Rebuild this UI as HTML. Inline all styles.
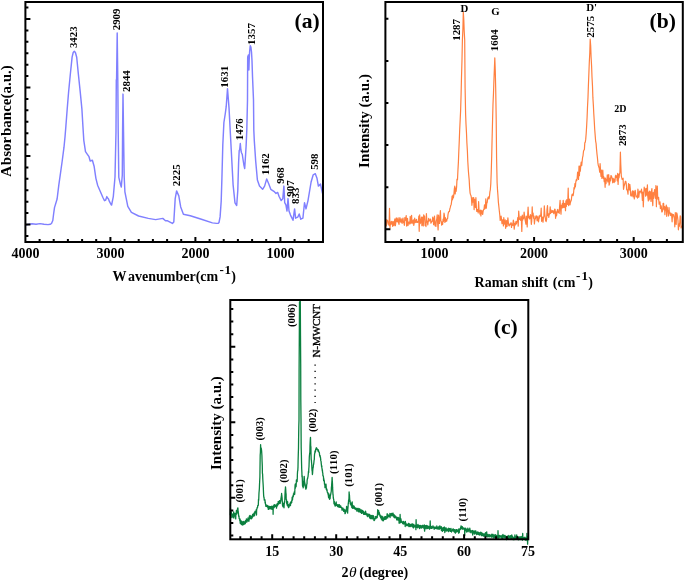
<!DOCTYPE html>
<html><head><meta charset="utf-8"><style>
html,body{margin:0;padding:0;background:#fff;}
body{width:685px;height:580px;overflow:hidden;}
svg{display:block;}
</style></head><body>
<svg width="685" height="580" viewBox="0 0 685 580">
<rect width="685" height="580" fill="#fff"/>
<path d="M25.4 225.0 L28.0 224.5 L32.0 223.8 L36.0 224.2 L40.0 223.6 L44.0 224.3 L48.0 224.6 L50.2 224.3 L51.5 223.5 L52.8 220.5 L53.6 214.0 L54.5 207.6 L57.1 199.0 L58.8 185.2 L60.5 173.1 L62.2 161.0 L64.0 147.2 L65.1 136.0 L65.9 126.0 L67.2 109.0 L68.6 92.0 L70.3 74.5 L72.1 57.2 L73.2 52.5 L74.3 51.3 L75.4 52.5 L76.7 57.2 L78.4 74.5 L80.2 91.7 L81.9 109.0 L82.9 126.0 L83.8 140.3 L85.5 151.6 L87.2 154.1 L89.0 156.7 L90.2 161.0 L92.4 160.2 L94.1 166.2 L95.9 178.3 L97.6 185.2 L100.2 191.2 L102.8 197.2 L104.5 200.7 L105.7 200.0 L106.8 196.6 L107.4 197.8 L108.5 199.0 L109.4 201.4 L111.3 205.0 L111.6 205.0 L113.3 196.6 L115.0 177.0 L116.0 131.4 L116.3 80.0 L116.6 79.0 L117.2 32.9 L117.8 80.0 L118.2 131.0 L118.8 177.3 L120.5 184.5 L121.3 187.0 L122.3 175.0 L122.6 130.0 L123.0 94.1 L123.5 130.0 L124.2 177.3 L124.9 191.8 L127.8 206.3 L131.4 212.3 L138.6 216.0 L148.3 218.4 L155.6 219.6 L162.8 218.4 L165.5 220.7 L167.6 220.8 L172.4 223.4 L173.8 222.0 L175.2 198.6 L176.6 190.9 L178.8 195.9 L180.7 206.9 L183.4 214.3 L190.3 215.7 L201.4 219.3 L212.4 222.9 L216.6 223.4 L218.3 223.3 L219.0 222.5 L220.1 216.9 L221.2 201.1 L221.9 178.7 L222.8 145.0 L223.9 122.5 L225.3 113.5 L226.2 106.7 L227.5 88.8 L229.0 107.6 L231.2 149.0 L233.1 184.8 L235.0 202.8 L236.7 205.5 L237.8 190.3 L238.6 162.8 L239.2 150.5 L239.7 149.5 L240.3 143.5 L240.9 150.0 L241.4 152.5 L242.3 154.5 L242.8 158.0 L243.8 164.5 L244.7 168.5 L246.1 146.2 L246.8 130.0 L247.5 100.0 L247.6 75.0 L247.7 57.0 L248.4 55.0 L248.9 70.0 L249.2 60.0 L249.6 52.0 L250.2 45.7 L250.9 47.0 L251.5 52.0 L252.0 60.7 L252.5 76.2 L253.5 100.0 L253.8 130.0 L254.3 140.7 L255.7 161.3 L257.4 180.0 L259.5 186.1 L262.6 189.3 L264.6 186.1 L266.7 178.9 L268.8 184.1 L270.8 189.3 L273.9 191.3 L276.0 193.4 L277.7 192.4 L279.1 196.5 L281.2 200.6 L282.8 198.6 L283.9 186.1 L284.7 202.7 L285.9 204.8 L287.0 211.0 L288.0 198.6 L289.0 211.0 L290.5 215.1 L293.0 220.3 L294.6 208.9 L295.6 218.2 L297.7 217.2 L299.2 214.0 L300.8 219.2 L302.9 218.2 L304.5 202.7 L306.0 208.9 L308.0 200.6 L311.1 182.0 L313.2 174.8 L315.3 173.7 L316.9 177.9 L318.4 186.1 L320.5 184.1 L322.5 193.4 L323.0 190.0" fill="none" stroke="#8080ff" stroke-width="1.45" stroke-linejoin="round"/>
<path d="M385.5 221.7 L385.9 226.0 L386.4 225.5 L386.8 219.6 L387.3 221.7 L387.7 220.5 L388.2 224.1 L388.6 222.3 L389.1 225.4 L389.5 208.4 L390.0 227.9 L390.4 221.9 L390.9 224.7 L391.3 222.1 L391.8 221.3 L392.2 223.1 L392.7 226.3 L393.1 221.7 L393.6 222.3 L394.0 225.6 L394.5 220.6 L394.9 218.8 L395.4 225.6 L395.8 222.3 L396.3 217.9 L396.7 221.2 L397.2 221.9 L397.6 219.1 L398.1 217.9 L398.5 222.3 L399.0 224.4 L399.4 220.1 L399.9 217.7 L400.3 221.2 L400.8 222.2 L401.2 218.9 L401.7 222.0 L402.1 223.4 L402.6 219.6 L403.0 218.0 L403.5 222.4 L403.9 222.7 L404.4 225.3 L404.8 217.7 L405.3 220.3 L405.7 218.7 L406.2 215.6 L406.6 226.1 L407.1 223.2 L407.5 218.4 L408.0 225.6 L408.4 223.3 L408.9 222.0 L409.3 222.2 L409.8 224.1 L410.2 216.4 L410.7 223.0 L411.1 223.3 L411.6 215.3 L412.0 222.3 L412.5 220.9 L412.9 223.7 L413.4 219.9 L413.8 225.4 L414.3 222.2 L414.7 218.0 L415.2 222.6 L415.6 220.4 L416.1 222.1 L416.5 219.4 L417.0 222.5 L417.4 222.4 L417.9 221.4 L418.3 222.2 L418.8 216.2 L419.2 231.3 L419.7 214.9 L420.1 223.7 L420.6 222.2 L421.0 220.0 L421.5 217.1 L421.9 225.7 L422.4 217.2 L422.8 223.0 L423.3 225.9 L423.7 214.8 L424.2 219.3 L424.6 216.1 L425.1 225.5 L425.5 224.6 L426.0 226.6 L426.4 213.7 L426.9 222.2 L427.3 221.4 L427.8 224.9 L428.2 221.7 L428.7 218.3 L429.1 221.1 L429.6 220.4 L430.0 220.0 L430.5 219.1 L430.9 223.1 L431.4 222.3 L431.8 221.2 L432.3 221.2 L432.7 217.2 L433.2 219.5 L433.6 224.6 L434.1 218.6 L434.5 216.0 L435.0 225.6 L435.4 222.1 L435.9 226.4 L436.3 220.6 L436.8 218.8 L437.2 214.8 L437.7 223.9 L438.1 229.9 L438.6 215.2 L439.0 219.8 L439.5 223.4 L439.9 218.1 L440.4 210.5 L440.8 220.6 L441.3 221.7 L441.7 225.1 L442.2 222.1 L442.6 224.5 L443.1 219.2 L443.5 221.4 L444.0 213.0 L444.4 215.2 L444.9 222.4 L445.3 217.7 L445.8 221.4 L446.2 219.8 L446.7 221.1 L447.1 218.6 L447.6 218.7 L448.0 214.6 L448.5 212.2 L448.9 211.7 L449.4 211.6 L449.8 209.0 L450.3 207.4 L450.7 205.6 L451.2 204.4 L451.6 201.6 L452.1 196.0 L452.5 199.8 L453.0 195.1 L453.4 197.8 L453.9 194.3 L454.3 189.2 L454.8 186.1 L455.2 194.0 L455.7 188.0 L456.1 191.5 L456.6 187.1 L457.0 179.1 L457.5 179.8 L457.9 171.0 L458.4 162.1 L458.8 151.4 L459.3 140.1 L459.7 129.4 L460.2 119.4 L460.6 110.9 L461.1 94.1 L461.5 77.0 L462.0 59.5 L462.4 40.0 L462.9 29.2 L463.3 12.0 L463.8 19.7 L464.2 31.1 L464.7 40.0 L465.1 88.0 L465.6 114.0 L466.0 123.9 L466.5 133.2 L466.9 142.9 L467.4 151.2 L467.8 161.4 L468.3 169.7 L468.7 174.8 L469.2 180.1 L469.6 187.4 L470.1 193.1 L470.5 194.5 L471.0 195.7 L471.4 197.8 L471.9 205.3 L472.3 201.5 L472.8 197.6 L473.2 202.1 L473.7 197.7 L474.1 209.6 L474.6 199.4 L475.0 206.7 L475.5 207.3 L475.9 197.7 L476.4 208.0 L476.8 211.5 L477.3 209.8 L477.7 209.6 L478.2 213.0 L478.6 201.6 L479.1 211.3 L479.5 211.0 L480.0 214.2 L480.4 210.0 L480.9 216.0 L481.3 211.9 L481.8 210.3 L482.2 213.1 L482.7 214.5 L483.1 211.2 L483.6 209.6 L484.0 209.4 L484.5 204.9 L484.9 208.9 L485.4 207.4 L485.8 198.9 L486.3 208.1 L486.7 203.4 L487.2 202.5 L487.6 199.2 L488.1 197.4 L488.5 196.9 L489.0 199.0 L489.4 197.0 L489.9 191.9 L490.3 190.0 L490.8 183.6 L491.2 173.0 L491.7 156.2 L492.1 138.7 L492.6 118.9 L493.0 104.0 L493.5 93.0 L493.9 80.9 L494.4 68.2 L494.8 57.9 L495.3 71.6 L495.7 88.8 L496.2 119.2 L496.6 158.8 L497.1 182.5 L497.5 189.6 L498.0 196.2 L498.4 202.4 L498.9 207.0 L499.3 210.7 L499.8 215.1 L500.2 220.5 L500.7 219.1 L501.1 216.1 L501.6 219.8 L502.0 223.6 L502.5 221.3 L502.9 219.6 L503.4 225.9 L503.8 217.7 L504.3 224.1 L504.7 223.0 L505.2 219.8 L505.6 228.3 L506.1 226.1 L506.5 220.7 L507.0 226.5 L507.4 223.0 L507.9 217.8 L508.3 222.0 L508.8 225.3 L509.2 225.9 L509.7 224.4 L510.1 223.9 L510.6 224.6 L511.0 222.5 L511.5 227.5 L511.9 223.9 L512.4 224.4 L512.8 225.4 L513.3 220.2 L513.7 221.5 L514.2 229.2 L514.6 225.4 L515.1 223.1 L515.5 225.0 L516.0 221.4 L516.4 223.8 L516.9 221.3 L517.3 221.6 L517.8 217.6 L518.2 226.1 L518.7 211.0 L519.1 216.3 L519.6 219.5 L520.0 219.2 L520.5 220.3 L520.9 216.4 L521.4 220.5 L521.8 231.5 L522.3 215.0 L522.7 220.2 L523.2 217.7 L523.6 218.5 L524.1 212.0 L524.5 215.2 L525.0 219.3 L525.4 221.3 L525.9 224.1 L526.3 216.1 L526.8 218.3 L527.2 226.9 L527.7 214.2 L528.1 207.1 L528.6 217.6 L529.0 216.4 L529.5 219.0 L529.9 218.2 L530.4 214.7 L530.8 215.8 L531.3 224.3 L531.7 221.2 L532.2 206.9 L532.6 215.9 L533.1 213.0 L533.5 218.2 L534.0 216.2 L534.4 223.9 L534.9 219.3 L535.3 219.0 L535.8 216.6 L536.2 215.7 L536.7 216.9 L537.1 220.8 L537.6 218.6 L538.0 216.0 L538.5 221.8 L538.9 218.9 L539.4 217.7 L539.8 215.4 L540.3 216.3 L540.7 215.5 L541.2 208.2 L541.6 221.3 L542.1 220.3 L542.5 217.2 L543.0 222.1 L543.4 218.0 L543.9 216.1 L544.3 205.9 L544.8 214.0 L545.2 217.0 L545.7 220.8 L546.1 221.6 L546.6 219.7 L547.0 209.6 L547.5 205.7 L547.9 215.7 L548.4 213.8 L548.8 217.4 L549.3 213.6 L549.7 214.0 L550.2 206.9 L550.6 213.5 L551.1 210.0 L551.5 212.5 L552.0 212.4 L552.4 210.7 L552.9 212.2 L553.3 210.8 L553.8 213.7 L554.2 212.7 L554.7 209.2 L555.1 209.4 L555.6 218.3 L556.0 211.8 L556.5 216.0 L556.9 213.3 L557.4 209.8 L557.8 209.4 L558.3 212.5 L558.7 212.0 L559.2 213.4 L559.6 206.3 L560.1 200.3 L560.5 208.9 L561.0 214.1 L561.4 205.3 L561.9 208.0 L562.3 203.5 L562.8 207.8 L563.2 200.4 L563.7 207.1 L564.1 207.4 L564.6 203.3 L565.0 203.7 L565.5 210.7 L565.9 200.9 L566.4 206.3 L566.8 199.5 L567.3 201.8 L567.7 204.5 L568.2 188.1 L568.6 205.6 L569.1 202.0 L569.5 199.1 L570.0 204.8 L570.4 202.5 L570.9 201.1 L571.3 200.2 L571.8 195.7 L572.2 194.1 L572.7 194.8 L573.1 195.7 L573.6 192.6 L574.0 187.7 L574.5 188.9 L574.9 183.7 L575.4 186.9 L575.8 181.8 L576.3 179.6 L576.7 180.6 L577.2 177.8 L577.6 172.2 L578.1 175.9 L578.5 179.5 L579.0 166.2 L579.4 175.7 L579.9 166.0 L580.3 171.1 L580.8 165.3 L581.2 162.0 L581.7 165.7 L582.1 161.7 L582.6 157.3 L583.0 155.8 L583.5 151.2 L583.9 150.2 L584.4 149.4 L584.8 142.9 L585.3 142.1 L585.7 139.4 L586.2 133.2 L586.6 126.8 L587.1 117.2 L587.5 107.1 L588.0 97.3 L588.4 85.5 L588.9 72.7 L589.3 62.2 L589.8 52.8 L590.2 39.2 L590.7 46.0 L591.1 56.9 L591.6 66.1 L592.0 76.9 L592.5 86.4 L592.9 97.9 L593.4 105.9 L593.8 114.0 L594.3 122.0 L594.7 129.2 L595.2 135.6 L595.6 140.8 L596.1 143.6 L596.5 148.9 L597.0 154.1 L597.4 157.5 L597.9 162.9 L598.3 165.3 L598.8 167.1 L599.2 168.1 L599.7 172.1 L600.1 163.7 L600.6 171.9 L601.0 176.4 L601.5 170.2 L601.9 178.5 L602.4 175.8 L602.8 170.2 L603.3 178.5 L603.7 176.5 L604.2 181.7 L604.6 178.0 L605.1 187.3 L605.5 178.2 L606.0 183.7 L606.4 179.6 L606.9 180.3 L607.3 174.9 L607.8 181.9 L608.2 178.3 L608.7 174.5 L609.1 185.2 L609.6 183.3 L610.0 178.0 L610.5 181.0 L610.9 175.7 L611.4 175.8 L611.8 177.2 L612.3 179.0 L612.7 182.8 L613.2 178.3 L613.6 180.1 L614.1 182.7 L614.5 179.2 L615.0 181.6 L615.4 176.0 L615.9 175.2 L616.3 177.4 L616.8 176.0 L617.2 180.8 L617.7 173.3 L618.1 184.4 L618.6 174.3 L619.0 177.9 L619.5 174.0 L619.9 172.7 L620.4 152.2 L620.8 164.8 L621.3 175.8 L621.7 177.7 L622.2 179.5 L622.6 179.1 L623.1 178.2 L623.5 189.3 L624.0 186.4 L624.4 185.1 L624.9 183.5 L625.3 181.3 L625.8 181.4 L626.2 183.1 L626.7 189.7 L627.1 189.6 L627.6 191.5 L628.0 194.1 L628.5 183.7 L628.9 186.8 L629.4 190.0 L629.8 184.4 L630.3 188.6 L630.7 195.5 L631.2 196.0 L631.6 196.0 L632.1 191.8 L632.5 190.9 L633.0 196.8 L633.4 191.1 L633.9 194.4 L634.3 199.0 L634.8 191.6 L635.2 190.3 L635.7 194.0 L636.1 196.9 L636.6 196.5 L637.0 196.0 L637.5 198.2 L637.9 189.1 L638.4 192.7 L638.8 197.3 L639.3 193.0 L639.7 191.1 L640.2 191.1 L640.6 191.6 L641.1 193.0 L641.5 189.2 L642.0 194.6 L642.4 200.4 L642.9 192.1 L643.3 206.8 L643.8 193.5 L644.2 187.2 L644.7 190.7 L645.1 189.0 L645.6 196.1 L646.0 188.3 L646.5 189.4 L646.9 195.2 L647.4 184.8 L647.8 196.5 L648.3 200.9 L648.7 192.1 L649.2 199.8 L649.6 191.2 L650.1 198.7 L650.5 191.8 L651.0 201.4 L651.4 191.6 L651.9 188.5 L652.3 199.0 L652.8 205.6 L653.2 192.7 L653.7 198.3 L654.1 193.0 L654.6 189.6 L655.0 193.4 L655.5 198.3 L655.9 185.5 L656.4 206.7 L656.8 192.9 L657.3 186.0 L657.7 197.7 L658.2 199.7 L658.6 197.4 L659.1 204.2 L659.5 203.5 L660.0 201.8 L660.4 208.6 L660.9 205.4 L661.3 206.4 L661.8 211.9 L662.2 211.8 L662.7 210.4 L663.1 203.4 L663.6 203.4 L664.0 209.3 L664.5 206.6 L664.9 214.6 L665.4 207.2 L665.8 210.2 L666.3 205.1 L666.7 216.3 L667.2 207.1 L667.6 211.1 L668.1 210.9 L668.5 216.0 L669.0 207.5 L669.4 213.1 L669.9 212.2 L670.3 215.2 L670.8 215.5 L671.2 213.4 L671.7 215.8 L672.1 221.8 L672.6 214.1 L673.0 215.9 L673.5 214.6 L673.9 216.6 L674.4 219.0 L674.8 226.8 L675.3 212.6 L675.7 221.1 L676.2 224.3 L676.6 212.8 L677.1 214.0 L677.5 216.8 L678.0 220.8 L678.4 229.8 L678.9 224.0 L679.3 226.4 L679.8 222.2 L680.2 215.8 L680.7 216.8 L681.1 228.0 L681.6 226.2 L682.0 226.9" fill="none" stroke="#ff8040" stroke-width="1.2" stroke-linejoin="round"/>
<path d="M230.3 515.2 L230.5 508.6 L230.6 513.8 L230.8 513.0 L231.0 513.2 L231.1 513.5 L231.3 511.8 L231.5 513.7 L231.7 513.3 L231.8 517.6 L232.0 514.7 L232.2 514.4 L232.3 514.8 L232.5 514.7 L232.7 514.5 L232.8 515.4 L233.0 516.6 L233.2 516.0 L233.4 517.5 L233.5 516.6 L233.7 511.9 L233.9 518.0 L234.0 516.9 L234.2 515.6 L234.4 515.3 L234.5 516.1 L234.7 513.5 L234.9 514.9 L235.1 514.6 L235.2 515.6 L235.4 513.4 L235.6 513.9 L235.7 518.9 L235.9 514.3 L236.1 513.7 L236.2 514.2 L236.4 510.5 L236.6 514.2 L236.8 512.2 L236.9 511.3 L237.1 513.1 L237.3 512.3 L237.4 510.0 L237.6 508.2 L237.8 508.0 L237.9 507.9 L238.1 511.2 L238.3 512.4 L238.5 513.8 L238.6 516.2 L238.8 515.8 L239.0 515.8 L239.1 518.1 L239.3 518.9 L239.5 518.9 L239.6 519.0 L239.8 520.8 L240.0 518.9 L240.2 522.8 L240.3 523.3 L240.5 521.2 L240.7 523.1 L240.8 520.5 L241.0 524.0 L241.2 521.2 L241.3 522.4 L241.5 524.1 L241.7 524.7 L241.9 521.4 L242.0 523.1 L242.2 523.9 L242.4 522.9 L242.5 525.0 L242.7 522.2 L242.9 523.7 L243.0 522.2 L243.2 524.5 L243.4 523.0 L243.6 522.6 L243.7 521.3 L243.9 524.6 L244.1 523.6 L244.2 523.5 L244.4 524.0 L244.6 523.1 L244.7 522.1 L244.9 521.8 L245.1 521.7 L245.3 523.7 L245.4 520.7 L245.6 521.4 L245.8 521.5 L245.9 521.9 L246.1 522.1 L246.3 520.1 L246.4 518.8 L246.6 521.7 L246.8 522.1 L247.0 521.3 L247.1 520.5 L247.3 519.9 L247.5 520.9 L247.6 519.6 L247.8 520.5 L248.0 517.8 L248.1 519.5 L248.3 519.1 L248.5 519.6 L248.7 519.0 L248.8 521.3 L249.0 520.1 L249.2 520.0 L249.3 516.2 L249.5 517.8 L249.7 517.4 L249.8 518.4 L250.0 515.4 L250.2 518.6 L250.4 518.3 L250.5 515.9 L250.7 516.1 L250.9 516.2 L251.0 516.9 L251.2 517.4 L251.4 518.8 L251.5 516.4 L251.7 517.2 L251.9 516.4 L252.1 518.0 L252.2 516.7 L252.4 517.1 L252.6 514.5 L252.7 515.2 L252.9 514.4 L253.1 516.5 L253.2 515.5 L253.4 514.3 L253.6 514.0 L253.8 514.7 L253.9 513.4 L254.1 512.9 L254.3 514.3 L254.4 515.9 L254.6 515.3 L254.8 512.5 L254.9 511.7 L255.1 511.3 L255.3 513.0 L255.5 512.4 L255.6 512.1 L255.8 512.2 L256.0 511.8 L256.1 511.5 L256.3 509.5 L256.5 515.0 L256.6 510.5 L256.8 509.0 L257.0 508.6 L257.2 507.5 L257.3 507.2 L257.5 507.7 L257.7 505.7 L257.8 505.3 L258.0 505.6 L258.2 505.0 L258.3 505.3 L258.5 499.3 L258.7 500.3 L258.9 495.1 L259.0 492.7 L259.2 490.7 L259.4 488.1 L259.5 485.0 L259.7 480.7 L259.9 476.9 L260.0 468.2 L260.2 455.0 L260.4 452.5 L260.6 444.7 L260.7 447.2 L260.9 449.2 L261.1 449.2 L261.2 448.0 L261.4 449.1 L261.6 450.9 L261.7 452.3 L261.9 455.3 L262.1 461.4 L262.3 465.9 L262.4 473.1 L262.6 474.1 L262.8 479.0 L262.9 480.7 L263.1 483.7 L263.3 487.3 L263.4 489.9 L263.6 494.5 L263.8 497.2 L264.0 497.1 L264.1 498.3 L264.3 500.1 L264.5 499.4 L264.6 500.2 L264.8 500.4 L265.0 499.9 L265.1 502.9 L265.3 502.0 L265.5 504.3 L265.7 504.4 L265.8 506.3 L266.0 505.6 L266.2 504.9 L266.3 506.3 L266.5 505.6 L266.7 506.2 L266.8 506.6 L267.0 506.6 L267.2 506.6 L267.4 506.2 L267.5 507.0 L267.7 505.3 L267.9 507.5 L268.0 506.6 L268.2 509.1 L268.4 509.4 L268.5 506.3 L268.7 508.6 L268.9 508.4 L269.1 507.5 L269.2 509.0 L269.4 507.9 L269.6 506.5 L269.7 508.0 L269.9 508.0 L270.1 508.2 L270.2 506.7 L270.4 508.6 L270.6 508.7 L270.8 506.7 L270.9 507.1 L271.1 507.4 L271.3 506.8 L271.4 509.1 L271.6 507.5 L271.8 506.1 L271.9 506.3 L272.1 507.0 L272.3 509.3 L272.5 506.7 L272.6 507.0 L272.8 507.4 L273.0 506.7 L273.1 514.3 L273.3 505.9 L273.5 507.0 L273.6 506.4 L273.8 506.8 L274.0 504.8 L274.2 507.7 L274.3 505.7 L274.5 505.7 L274.7 504.6 L274.8 504.7 L275.0 506.0 L275.2 506.3 L275.3 506.2 L275.5 506.5 L275.7 506.0 L275.9 505.2 L276.0 505.9 L276.2 505.6 L276.4 504.9 L276.5 508.2 L276.7 505.9 L276.9 504.7 L277.0 503.9 L277.2 504.8 L277.4 505.9 L277.6 503.7 L277.7 503.7 L277.9 503.4 L278.1 504.7 L278.2 501.4 L278.4 503.4 L278.6 504.0 L278.7 502.0 L278.9 501.6 L279.1 503.2 L279.3 501.9 L279.4 502.5 L279.6 500.6 L279.8 501.3 L279.9 503.5 L280.1 500.6 L280.3 503.2 L280.4 500.9 L280.6 501.7 L280.8 500.5 L281.0 497.9 L281.1 499.0 L281.3 496.3 L281.5 495.3 L281.6 493.5 L281.8 496.0 L282.0 496.9 L282.1 498.1 L282.3 501.3 L282.5 505.1 L282.7 505.0 L282.8 506.3 L283.0 506.7 L283.2 505.0 L283.3 503.7 L283.5 503.3 L283.7 504.4 L283.8 505.1 L284.0 507.8 L284.2 504.3 L284.4 503.0 L284.5 501.4 L284.7 502.3 L284.9 497.0 L285.0 494.2 L285.2 490.4 L285.4 488.7 L285.5 486.9 L285.7 489.1 L285.9 492.8 L286.1 494.1 L286.2 499.4 L286.4 499.4 L286.6 500.1 L286.7 503.6 L286.9 504.1 L287.1 503.3 L287.2 505.3 L287.4 503.6 L287.6 501.6 L287.8 505.6 L287.9 504.4 L288.1 506.8 L288.3 504.9 L288.4 504.6 L288.6 507.6 L288.8 505.0 L288.9 506.0 L289.1 507.0 L289.3 505.4 L289.5 504.9 L289.6 504.8 L289.8 505.1 L290.0 503.2 L290.1 504.5 L290.3 504.2 L290.5 505.6 L290.6 502.7 L290.8 501.9 L291.0 503.3 L291.2 501.9 L291.3 502.3 L291.5 502.0 L291.7 502.6 L291.8 500.2 L292.0 500.2 L292.2 497.1 L292.3 498.2 L292.5 500.0 L292.7 497.1 L292.9 496.6 L293.0 495.6 L293.2 496.8 L293.4 495.9 L293.5 493.6 L293.7 495.2 L293.9 494.2 L294.0 494.0 L294.2 492.0 L294.4 493.8 L294.6 491.6 L294.7 494.3 L294.9 489.0 L295.1 484.7 L295.2 488.5 L295.4 483.9 L295.6 487.1 L295.7 485.6 L295.9 485.6 L296.1 486.5 L296.3 482.6 L296.4 479.9 L296.6 481.3 L296.8 480.9 L296.9 479.7 L297.1 481.6 L297.3 478.3 L297.4 474.0 L297.6 470.9 L297.8 470.8 L298.0 466.9 L298.1 461.0 L298.3 453.9 L298.5 448.0 L298.6 439.0 L298.8 426.3 L299.0 420.0 L299.1 370.8 L299.3 337.4 L299.5 302.0 L299.7 301.8 L299.8 301.6 L300.0 301.4 L300.2 301.2 L300.3 301.0 L300.5 335.6 L300.7 363.7 L300.8 400.0 L301.0 418.3 L301.2 448.0 L301.4 455.2 L301.5 461.0 L301.7 468.8 L301.9 472.6 L302.0 477.1 L302.2 475.7 L302.4 482.0 L302.5 485.3 L302.7 486.5 L302.9 486.1 L303.1 487.0 L303.2 487.8 L303.4 485.7 L303.6 483.7 L303.7 481.2 L303.9 480.5 L304.1 477.2 L304.2 476.4 L304.4 479.5 L304.6 482.1 L304.8 482.7 L304.9 485.7 L305.1 483.9 L305.3 487.0 L305.4 485.6 L305.6 486.6 L305.8 489.2 L305.9 488.8 L306.1 488.9 L306.3 487.8 L306.5 487.4 L306.6 485.5 L306.8 484.1 L307.0 483.7 L307.1 480.6 L307.3 479.4 L307.5 478.3 L307.6 478.6 L307.8 477.4 L308.0 476.8 L308.2 474.7 L308.3 473.7 L308.5 471.1 L308.7 472.6 L308.8 468.7 L309.0 466.7 L309.2 460.7 L309.3 457.4 L309.5 454.9 L309.7 453.7 L309.9 451.5 L310.0 445.8 L310.2 441.6 L310.4 438.0 L310.5 437.5 L310.7 446.1 L310.9 446.8 L311.0 453.3 L311.2 459.3 L311.4 460.4 L311.6 463.0 L311.7 464.0 L311.9 468.4 L312.1 471.0 L312.2 470.8 L312.4 474.5 L312.6 473.2 L312.7 471.1 L312.9 468.6 L313.1 467.9 L313.3 466.7 L313.4 465.0 L313.6 464.5 L313.8 463.1 L313.9 462.2 L314.1 460.1 L314.3 459.7 L314.4 456.6 L314.6 453.6 L314.8 453.5 L315.0 450.9 L315.1 452.3 L315.3 450.8 L315.5 451.7 L315.6 449.5 L315.8 450.1 L316.0 448.6 L316.1 448.0 L316.3 447.9 L316.5 447.8 L316.7 448.7 L316.8 448.2 L317.0 449.1 L317.2 449.1 L317.3 449.7 L317.5 449.8 L317.7 449.5 L317.8 450.1 L318.0 450.2 L318.2 451.3 L318.4 449.8 L318.5 450.6 L318.7 451.5 L318.9 451.7 L319.0 452.3 L319.2 452.5 L319.4 452.6 L319.5 454.5 L319.7 456.0 L319.9 455.4 L320.1 455.5 L320.2 457.2 L320.4 456.9 L320.6 458.4 L320.7 460.0 L320.9 460.9 L321.1 461.6 L321.2 463.1 L321.4 464.9 L321.6 466.6 L321.8 465.9 L321.9 467.9 L322.1 469.1 L322.3 470.9 L322.4 469.8 L322.6 472.6 L322.8 473.0 L322.9 475.6 L323.1 475.5 L323.3 476.1 L323.5 477.2 L323.6 480.6 L323.8 478.7 L324.0 480.3 L324.1 481.2 L324.3 480.7 L324.5 484.2 L324.6 484.0 L324.8 483.9 L325.0 487.7 L325.2 484.1 L325.3 485.4 L325.5 487.7 L325.7 487.4 L325.8 485.0 L326.0 484.2 L326.2 487.0 L326.3 489.6 L326.5 488.4 L326.7 489.2 L326.9 490.7 L327.0 489.7 L327.2 491.4 L327.4 492.4 L327.5 492.6 L327.7 493.1 L327.9 492.7 L328.0 494.2 L328.2 493.7 L328.4 495.9 L328.6 497.7 L328.7 494.9 L328.9 494.0 L329.1 496.3 L329.2 497.5 L329.4 498.8 L329.6 499.4 L329.7 498.1 L329.9 497.5 L330.1 498.5 L330.3 495.1 L330.4 496.3 L330.6 494.1 L330.8 494.2 L330.9 493.1 L331.1 492.1 L331.3 491.0 L331.4 487.6 L331.6 486.0 L331.8 482.8 L332.0 480.1 L332.1 477.4 L332.3 481.1 L332.5 484.0 L332.6 487.4 L332.8 491.2 L333.0 494.8 L333.1 494.6 L333.3 498.0 L333.5 498.7 L333.7 499.6 L333.8 500.0 L334.0 503.7 L334.2 503.7 L334.3 501.4 L334.5 504.5 L334.7 505.1 L334.8 503.9 L335.0 504.1 L335.2 506.2 L335.4 505.1 L335.5 503.1 L335.7 504.0 L335.9 504.0 L336.0 504.1 L336.2 502.0 L336.4 505.3 L336.5 503.9 L336.7 504.8 L336.9 504.6 L337.1 505.7 L337.2 504.6 L337.4 506.2 L337.6 505.8 L337.7 506.6 L337.9 504.9 L338.1 506.7 L338.2 505.6 L338.4 504.8 L338.6 507.0 L338.8 504.7 L338.9 506.6 L339.1 505.2 L339.3 506.2 L339.4 504.7 L339.6 505.3 L339.8 507.4 L339.9 506.7 L340.1 506.7 L340.3 506.4 L340.5 507.4 L340.6 505.8 L340.8 506.3 L341.0 507.4 L341.1 507.0 L341.3 507.3 L341.5 508.0 L341.6 508.0 L341.8 508.0 L342.0 510.1 L342.2 509.7 L342.3 510.1 L342.5 509.0 L342.7 508.7 L342.8 507.8 L343.0 509.0 L343.2 509.8 L343.3 508.9 L343.5 510.4 L343.7 511.4 L343.9 510.9 L344.0 509.1 L344.2 510.7 L344.4 509.7 L344.5 511.3 L344.7 510.8 L344.9 511.9 L345.0 513.7 L345.2 511.9 L345.4 513.2 L345.6 510.7 L345.7 510.0 L345.9 511.5 L346.1 511.8 L346.2 509.4 L346.4 509.8 L346.6 506.3 L346.7 509.5 L346.9 509.9 L347.1 508.9 L347.3 508.3 L347.4 507.4 L347.6 513.1 L347.8 509.3 L347.9 508.5 L348.1 506.3 L348.3 502.8 L348.4 503.8 L348.6 500.0 L348.8 501.5 L349.0 496.9 L349.1 492.0 L349.3 494.2 L349.5 495.7 L349.6 497.8 L349.8 500.5 L350.0 501.4 L350.1 500.9 L350.3 503.8 L350.5 504.4 L350.7 504.6 L350.8 503.4 L351.0 503.2 L351.2 505.7 L351.3 505.5 L351.5 505.3 L351.7 503.8 L351.8 507.4 L352.0 503.0 L352.2 502.0 L352.4 508.3 L352.5 506.2 L352.7 506.8 L352.9 505.5 L353.0 508.2 L353.2 505.6 L353.4 507.4 L353.5 507.4 L353.7 506.3 L353.9 508.3 L354.1 506.2 L354.2 507.0 L354.4 507.6 L354.6 507.4 L354.7 508.4 L354.9 509.0 L355.1 507.8 L355.2 507.8 L355.4 507.9 L355.6 509.0 L355.8 509.6 L355.9 508.7 L356.1 509.5 L356.3 509.2 L356.4 508.5 L356.6 510.3 L356.8 508.5 L356.9 509.6 L357.1 511.3 L357.3 508.8 L357.5 509.9 L357.6 508.4 L357.8 509.6 L358.0 508.6 L358.1 509.8 L358.3 508.5 L358.5 510.3 L358.6 511.8 L358.8 510.6 L359.0 511.0 L359.2 510.4 L359.3 510.3 L359.5 509.7 L359.7 508.7 L359.8 510.6 L360.0 512.2 L360.2 511.1 L360.3 510.2 L360.5 512.3 L360.7 510.3 L360.9 510.2 L361.0 509.7 L361.2 510.1 L361.4 511.0 L361.5 513.4 L361.7 511.2 L361.9 510.5 L362.0 511.0 L362.2 511.6 L362.4 510.3 L362.6 512.2 L362.7 513.0 L362.9 512.7 L363.1 513.1 L363.2 511.3 L363.4 511.1 L363.6 514.3 L363.7 514.3 L363.9 511.9 L364.1 513.7 L364.3 513.6 L364.4 514.3 L364.6 513.2 L364.8 513.4 L364.9 514.2 L365.1 514.3 L365.3 514.2 L365.4 512.4 L365.6 511.2 L365.8 513.5 L366.0 512.8 L366.1 513.9 L366.3 514.8 L366.5 514.9 L366.6 514.4 L366.8 514.9 L367.0 514.9 L367.1 513.7 L367.3 516.1 L367.5 515.9 L367.7 515.4 L367.8 516.6 L368.0 514.4 L368.2 516.0 L368.3 514.2 L368.5 514.4 L368.7 514.8 L368.8 515.8 L369.0 514.5 L369.2 515.6 L369.4 514.5 L369.5 516.9 L369.7 517.8 L369.9 516.3 L370.0 517.8 L370.2 516.8 L370.4 518.6 L370.5 516.7 L370.7 515.1 L370.9 518.3 L371.1 516.8 L371.2 516.0 L371.4 516.5 L371.6 515.6 L371.7 517.2 L371.9 516.4 L372.1 519.0 L372.2 515.5 L372.4 516.2 L372.6 516.5 L372.8 517.6 L372.9 516.3 L373.1 518.4 L373.3 515.6 L373.4 518.0 L373.6 518.3 L373.8 519.3 L373.9 520.4 L374.1 520.6 L374.3 519.3 L374.5 520.1 L374.6 518.4 L374.8 519.4 L375.0 517.9 L375.1 516.6 L375.3 517.2 L375.5 517.2 L375.6 518.2 L375.8 518.6 L376.0 516.5 L376.2 517.3 L376.3 517.8 L376.5 517.8 L376.7 516.7 L376.8 517.4 L377.0 516.5 L377.2 517.6 L377.3 516.2 L377.5 513.8 L377.7 509.7 L377.9 514.1 L378.0 514.8 L378.2 513.2 L378.4 513.4 L378.5 511.5 L378.7 510.7 L378.9 513.3 L379.0 513.2 L379.2 514.2 L379.4 512.6 L379.6 514.7 L379.7 514.4 L379.9 516.1 L380.1 514.9 L380.2 515.3 L380.4 515.6 L380.6 517.8 L380.7 516.7 L380.9 516.2 L381.1 516.2 L381.3 517.9 L381.4 519.2 L381.6 516.2 L381.8 517.4 L381.9 519.2 L382.1 520.1 L382.3 516.4 L382.4 520.2 L382.6 520.4 L382.8 520.4 L383.0 519.5 L383.1 520.9 L383.3 519.4 L383.5 520.6 L383.6 517.8 L383.8 519.7 L384.0 517.3 L384.1 516.9 L384.3 518.8 L384.5 517.2 L384.7 518.4 L384.8 516.8 L385.0 519.4 L385.2 517.8 L385.3 516.6 L385.5 517.9 L385.7 518.4 L385.8 516.6 L386.0 517.8 L386.2 519.2 L386.4 517.9 L386.5 517.0 L386.7 516.5 L386.9 517.4 L387.0 515.2 L387.2 513.7 L387.4 515.9 L387.5 515.3 L387.7 518.0 L387.9 516.4 L388.1 515.1 L388.2 514.9 L388.4 516.5 L388.6 515.1 L388.7 515.3 L388.9 515.7 L389.1 515.8 L389.2 515.6 L389.4 515.4 L389.6 516.5 L389.8 516.7 L389.9 513.3 L390.1 517.5 L390.3 514.9 L390.4 516.0 L390.6 514.0 L390.8 515.0 L390.9 514.8 L391.1 514.6 L391.3 515.3 L391.5 515.0 L391.6 513.4 L391.8 515.9 L392.0 515.1 L392.1 514.8 L392.3 513.8 L392.5 513.9 L392.6 514.0 L392.8 513.1 L393.0 513.2 L393.2 516.2 L393.3 514.4 L393.5 515.0 L393.7 514.4 L393.8 516.6 L394.0 517.3 L394.2 515.5 L394.3 516.4 L394.5 515.2 L394.7 517.8 L394.9 517.2 L395.0 515.6 L395.2 517.8 L395.4 517.1 L395.5 517.2 L395.7 517.3 L395.9 516.3 L396.0 516.7 L396.2 518.0 L396.4 517.5 L396.6 519.3 L396.7 519.8 L396.9 517.7 L397.1 517.5 L397.2 517.5 L397.4 519.1 L397.6 519.5 L397.7 518.8 L397.9 520.1 L398.1 517.5 L398.3 518.8 L398.4 518.8 L398.6 519.5 L398.8 520.2 L398.9 518.0 L399.1 523.2 L399.3 519.3 L399.4 520.6 L399.6 521.2 L399.8 523.2 L400.0 520.9 L400.1 514.4 L400.3 519.8 L400.5 521.7 L400.6 520.1 L400.8 520.1 L401.0 518.9 L401.1 522.5 L401.3 522.1 L401.5 520.8 L401.7 521.6 L401.8 521.8 L402.0 522.0 L402.2 522.0 L402.3 522.4 L402.5 522.7 L402.7 523.6 L402.8 522.4 L403.0 522.0 L403.2 522.8 L403.4 522.0 L403.5 521.5 L403.7 524.0 L403.9 522.6 L404.0 523.2 L404.2 523.8 L404.4 522.1 L404.5 523.9 L404.7 523.8 L404.9 523.4 L405.1 523.9 L405.2 526.5 L405.4 521.5 L405.6 523.5 L405.7 522.9 L405.9 524.8 L406.1 524.3 L406.2 523.6 L406.4 524.4 L406.6 525.7 L406.8 525.6 L406.9 524.9 L407.1 525.1 L407.3 524.8 L407.4 524.8 L407.6 525.5 L407.8 525.0 L407.9 525.4 L408.1 524.0 L408.3 523.5 L408.5 523.4 L408.6 524.7 L408.8 526.5 L409.0 526.4 L409.1 524.3 L409.3 523.8 L409.5 526.2 L409.6 525.3 L409.8 524.2 L410.0 526.6 L410.2 525.7 L410.3 526.7 L410.5 525.7 L410.7 526.2 L410.8 525.7 L411.0 524.5 L411.2 525.3 L411.3 524.7 L411.5 526.2 L411.7 524.4 L411.9 523.9 L412.0 526.1 L412.2 526.6 L412.4 526.9 L412.5 526.6 L412.7 524.0 L412.9 524.8 L413.0 525.0 L413.2 525.5 L413.4 527.9 L413.6 525.5 L413.7 525.9 L413.9 524.5 L414.1 526.0 L414.2 526.9 L414.4 525.8 L414.6 526.9 L414.7 526.9 L414.9 526.2 L415.1 526.1 L415.3 525.4 L415.4 527.1 L415.6 525.5 L415.8 525.3 L415.9 529.7 L416.1 519.7 L416.3 526.6 L416.4 527.3 L416.6 526.3 L416.8 526.4 L417.0 527.3 L417.1 527.2 L417.3 525.2 L417.5 525.1 L417.6 527.8 L417.8 526.8 L418.0 524.3 L418.1 525.2 L418.3 526.3 L418.5 525.4 L418.7 527.0 L418.8 526.6 L419.0 527.0 L419.2 525.3 L419.3 527.2 L419.5 528.5 L419.7 525.7 L419.8 527.9 L420.0 527.6 L420.2 527.2 L420.4 526.5 L420.5 525.5 L420.7 525.7 L420.9 527.5 L421.0 527.7 L421.2 528.1 L421.4 526.6 L421.5 527.8 L421.7 526.5 L421.9 525.7 L422.1 527.2 L422.2 527.6 L422.4 527.2 L422.6 525.4 L422.7 526.3 L422.9 525.3 L423.1 527.0 L423.2 525.8 L423.4 526.8 L423.6 527.3 L423.8 527.1 L423.9 528.4 L424.1 526.7 L424.3 524.8 L424.4 527.9 L424.6 531.2 L424.8 528.3 L424.9 527.2 L425.1 527.5 L425.3 527.1 L425.5 525.6 L425.6 526.3 L425.8 527.3 L426.0 526.3 L426.1 528.8 L426.3 525.3 L426.5 526.4 L426.6 528.0 L426.8 526.4 L427.0 525.9 L427.2 525.7 L427.3 526.4 L427.5 528.5 L427.7 527.4 L427.8 527.5 L428.0 526.5 L428.2 528.1 L428.3 527.4 L428.5 526.3 L428.7 526.4 L428.9 527.5 L429.0 528.4 L429.2 526.6 L429.4 527.7 L429.5 529.2 L429.7 526.4 L429.9 526.0 L430.0 528.3 L430.2 521.0 L430.4 527.3 L430.6 527.7 L430.7 527.1 L430.9 528.0 L431.1 527.2 L431.2 528.4 L431.4 526.5 L431.6 526.9 L431.7 527.9 L431.9 527.2 L432.1 528.3 L432.3 527.6 L432.4 526.8 L432.6 527.5 L432.8 526.8 L432.9 525.8 L433.1 526.2 L433.3 526.5 L433.4 526.9 L433.6 527.4 L433.8 528.2 L434.0 527.8 L434.1 529.1 L434.3 528.6 L434.5 527.2 L434.6 529.0 L434.8 528.6 L435.0 527.0 L435.1 527.6 L435.3 528.4 L435.5 527.5 L435.7 528.3 L435.8 527.7 L436.0 528.1 L436.2 527.1 L436.3 527.9 L436.5 527.2 L436.7 528.3 L436.8 526.0 L437.0 528.2 L437.2 529.1 L437.4 528.4 L437.5 527.8 L437.7 528.4 L437.9 527.1 L438.0 527.1 L438.2 527.6 L438.4 527.9 L438.5 529.0 L438.7 527.2 L438.9 529.1 L439.1 526.4 L439.2 527.3 L439.4 528.0 L439.6 529.2 L439.7 527.4 L439.9 525.9 L440.1 528.4 L440.2 527.9 L440.4 526.8 L440.6 526.9 L440.8 527.3 L440.9 528.2 L441.1 528.8 L441.3 526.6 L441.4 530.5 L441.6 528.1 L441.8 527.9 L441.9 529.0 L442.1 528.3 L442.3 530.7 L442.5 531.4 L442.6 528.1 L442.8 527.9 L443.0 527.8 L443.1 528.0 L443.3 529.2 L443.5 527.8 L443.6 530.3 L443.8 528.7 L444.0 528.6 L444.2 529.9 L444.3 527.0 L444.5 528.1 L444.7 529.8 L444.8 532.5 L445.0 529.3 L445.2 529.8 L445.3 528.8 L445.5 529.3 L445.7 528.2 L445.9 527.7 L446.0 530.9 L446.2 528.7 L446.4 529.0 L446.5 531.0 L446.7 530.7 L446.9 529.1 L447.0 529.3 L447.2 529.8 L447.4 529.0 L447.6 530.5 L447.7 530.1 L447.9 530.0 L448.1 530.6 L448.2 530.7 L448.4 531.7 L448.6 531.4 L448.7 528.2 L448.9 530.9 L449.1 528.9 L449.3 528.6 L449.4 530.7 L449.6 529.2 L449.8 529.6 L449.9 530.9 L450.1 529.2 L450.3 529.0 L450.4 530.3 L450.6 531.3 L450.8 530.7 L451.0 528.5 L451.1 529.9 L451.3 530.0 L451.5 532.0 L451.6 531.0 L451.8 531.0 L452.0 531.3 L452.1 529.8 L452.3 530.5 L452.5 530.5 L452.7 529.1 L452.8 530.1 L453.0 530.7 L453.2 529.0 L453.3 529.6 L453.5 530.8 L453.7 531.2 L453.8 529.4 L454.0 530.4 L454.2 531.8 L454.4 532.0 L454.5 529.7 L454.7 530.8 L454.9 531.9 L455.0 530.5 L455.2 531.0 L455.4 533.1 L455.5 530.6 L455.7 530.5 L455.9 529.7 L456.1 530.0 L456.2 532.2 L456.4 530.7 L456.6 529.6 L456.7 529.9 L456.9 530.9 L457.1 531.7 L457.2 530.0 L457.4 531.4 L457.6 530.2 L457.8 531.0 L457.9 531.1 L458.1 531.1 L458.3 529.9 L458.4 530.1 L458.6 533.2 L458.8 528.8 L458.9 530.3 L459.1 530.5 L459.3 532.5 L459.5 529.8 L459.6 529.6 L459.8 529.8 L460.0 528.7 L460.1 528.9 L460.3 529.4 L460.5 529.0 L460.6 527.5 L460.8 528.1 L461.0 526.0 L461.2 528.8 L461.3 527.2 L461.5 527.9 L461.7 526.3 L461.8 527.4 L462.0 528.2 L462.2 528.9 L462.3 526.7 L462.5 529.1 L462.7 528.0 L462.9 527.5 L463.0 528.9 L463.2 528.2 L463.4 528.4 L463.5 528.2 L463.7 529.2 L463.9 529.1 L464.0 528.9 L464.2 528.1 L464.4 528.7 L464.6 529.5 L464.7 535.4 L464.9 529.1 L465.1 530.6 L465.2 529.2 L465.4 528.2 L465.6 529.9 L465.7 528.4 L465.9 528.4 L466.1 530.5 L466.3 529.2 L466.4 529.4 L466.6 532.0 L466.8 529.9 L466.9 530.2 L467.1 530.8 L467.3 530.0 L467.4 530.1 L467.6 530.6 L467.8 528.1 L468.0 531.8 L468.1 529.3 L468.3 529.4 L468.5 531.0 L468.6 530.6 L468.8 529.4 L469.0 530.9 L469.1 529.6 L469.3 530.1 L469.5 529.4 L469.7 530.1 L469.8 528.1 L470.0 532.2 L470.2 531.4 L470.3 532.0 L470.5 531.1 L470.7 530.4 L470.8 530.9 L471.0 532.8 L471.2 531.2 L471.4 531.6 L471.5 531.2 L471.7 531.5 L471.9 531.7 L472.0 531.2 L472.2 531.2 L472.4 530.5 L472.5 530.6 L472.7 535.0 L472.9 531.2 L473.1 532.6 L473.2 531.9 L473.4 531.1 L473.6 532.7 L473.7 532.8 L473.9 530.8 L474.1 533.1 L474.2 532.9 L474.4 534.0 L474.6 531.3 L474.8 531.1 L474.9 533.3 L475.1 530.8 L475.3 532.0 L475.4 531.7 L475.6 531.8 L475.8 531.0 L475.9 532.7 L476.1 534.0 L476.3 533.5 L476.5 533.6 L476.6 532.9 L476.8 534.7 L477.0 533.8 L477.1 534.4 L477.3 531.8 L477.5 533.7 L477.6 532.2 L477.8 533.6 L478.0 533.4 L478.2 532.2 L478.3 533.5 L478.5 534.6 L478.7 534.0 L478.8 534.2 L479.0 532.9 L479.2 533.2 L479.3 532.7 L479.5 534.0 L479.7 535.1 L479.9 534.4 L480.0 533.9 L480.2 532.9 L480.4 534.4 L480.5 533.7 L480.7 532.1 L480.9 532.3 L481.0 533.8 L481.2 533.2 L481.4 535.7 L481.6 534.1 L481.7 533.0 L481.9 533.6 L482.1 535.7 L482.2 533.2 L482.4 534.9 L482.6 534.7 L482.7 535.7 L482.9 534.7 L483.1 533.7 L483.3 534.7 L483.4 534.3 L483.6 535.3 L483.8 534.3 L483.9 536.4 L484.1 534.3 L484.3 534.9 L484.4 533.9 L484.6 534.9 L484.8 534.8 L485.0 535.1 L485.1 535.9 L485.3 534.4 L485.5 532.6 L485.6 536.2 L485.8 534.8 L486.0 534.5 L486.1 536.4 L486.3 536.0 L486.5 532.6 L486.7 531.8 L486.8 536.0 L487.0 534.4 L487.2 534.7 L487.3 536.9 L487.5 534.5 L487.7 535.0 L487.8 535.4 L488.0 535.3 L488.2 536.1 L488.4 536.4 L488.5 535.4 L488.7 536.7 L488.9 534.5 L489.0 535.0 L489.2 536.9 L489.4 535.2 L489.5 536.3 L489.7 534.9 L489.9 535.0 L490.1 535.1 L490.2 535.4 L490.4 535.0 L490.6 535.4 L490.7 536.2 L490.9 536.8 L491.1 535.7 L491.2 536.2 L491.4 536.6 L491.6 534.7 L491.8 534.2 L491.9 537.3 L492.1 537.0 L492.3 535.7 L492.4 536.1 L492.6 534.8 L492.8 534.4 L492.9 536.1 L493.1 534.4 L493.3 536.8 L493.5 535.2 L493.6 536.3 L493.8 537.9 L494.0 537.8 L494.1 535.7 L494.3 537.1 L494.5 535.0 L494.6 535.5 L494.8 536.4 L495.0 537.4 L495.2 535.4 L495.3 536.4 L495.5 536.0 L495.7 534.7 L495.8 535.8 L496.0 537.8 L496.2 536.3 L496.3 536.9 L496.5 537.2 L496.7 535.6 L496.9 537.6 L497.0 537.9 L497.2 538.1 L497.4 537.8 L497.5 536.1 L497.7 536.0 L497.9 535.8 L498.0 530.7 L498.2 535.9 L498.4 537.7 L498.6 538.2 L498.7 536.2 L498.9 537.6 L499.1 535.7 L499.2 536.7 L499.4 536.0 L499.6 535.4 L499.7 537.1 L499.9 537.1 L500.1 536.6 L500.3 536.3 L500.4 535.8 L500.6 536.7 L500.8 536.2 L500.9 537.1 L501.1 535.8 L501.3 537.2 L501.4 537.5 L501.6 538.2 L501.8 538.0 L502.0 537.1 L502.1 536.3 L502.3 535.2 L502.5 537.0 L502.6 538.5 L502.8 538.7 L503.0 534.5 L503.1 536.3 L503.3 536.7 L503.5 536.0 L503.7 537.2 L503.8 537.2 L504.0 536.6 L504.2 537.1 L504.3 535.4 L504.5 535.9 L504.7 536.0 L504.8 537.8 L505.0 535.3 L505.2 536.5 L505.4 537.5 L505.5 536.6 L505.7 537.4 L505.9 536.5 L506.0 536.9 L506.2 537.4 L506.4 539.7 L506.5 537.1 L506.7 537.7 L506.9 536.3 L507.1 538.5 L507.2 537.8 L507.4 536.9 L507.6 537.8 L507.7 537.1 L507.9 538.5 L508.1 538.8 L508.2 535.5 L508.4 538.3 L508.6 537.1 L508.8 537.2 L508.9 536.6 L509.1 537.6 L509.3 535.8 L509.4 536.2 L509.6 536.2 L509.8 537.5 L509.9 538.1 L510.1 538.0 L510.3 537.8 L510.5 536.8 L510.6 535.7 L510.8 538.0 L511.0 537.7 L511.1 535.9 L511.3 538.9 L511.5 537.2 L511.6 537.2 L511.8 535.0 L512.0 537.8 L512.2 537.3 L512.3 536.6 L512.5 537.8 L512.7 536.3 L512.8 536.9 L513.0 539.5 L513.2 538.2 L513.3 538.3 L513.5 538.2 L513.7 538.1 L513.9 537.6 L514.0 539.7 L514.2 537.3 L514.4 538.1 L514.5 537.2 L514.7 537.2 L514.9 535.0 L515.0 535.5 L515.2 539.0 L515.4 539.0 L515.6 537.2 L515.7 537.6 L515.9 538.3 L516.1 536.6 L516.2 539.4 L516.4 536.5 L516.6 536.9 L516.7 534.8 L516.9 539.1 L517.1 537.5 L517.3 539.0 L517.4 536.4 L517.6 537.9 L517.8 537.6 L517.9 537.7 L518.1 539.6 L518.3 539.8 L518.4 538.9 L518.6 537.2 L518.8 538.5 L519.0 537.3 L519.1 538.2 L519.3 538.3 L519.5 538.3 L519.6 536.9 L519.8 538.1 L520.0 539.5 L520.1 537.0 L520.3 538.1 L520.5 538.9 L520.7 537.0 L520.8 538.3 L521.0 536.7 L521.2 537.9 L521.3 537.1 L521.5 537.7 L521.7 538.1 L521.8 538.3 L522.0 538.4 L522.2 536.2 L522.4 540.2 L522.5 538.3 L522.7 533.5 L522.9 538.0 L523.0 538.9 L523.2 537.6 L523.4 538.1 L523.5 538.0 L523.7 538.9 L523.9 537.6 L524.1 538.8 L524.2 538.7 L524.4 538.1 L524.6 539.5 L524.7 538.3 L524.9 537.1 L525.1 538.6 L525.2 538.3 L525.4 538.2 L525.6 538.2 L525.8 540.3 L525.9 538.1 L526.1 538.3 L526.3 537.7 L526.4 539.3 L526.6 537.9 L526.8 537.2 L526.9 533.3 L527.1 538.5 L527.3 540.9 L527.5 536.5 L527.6 544.2 L527.8 538.8 L528.0 539.3" fill="none" stroke="#0b803f" stroke-width="1.3" stroke-linejoin="round"/>
<rect x="25.4" y="2.0" width="297.6" height="240.0" fill="none" stroke="#000" stroke-width="2"/>
<path d="M25.4 19.0H30.4 M25.4 87.5H30.4 M25.4 156.0H30.4 M25.4 224.5H30.4 M25.4 7.6H28.4 M25.4 30.4H28.4 M25.4 41.8H28.4 M25.4 53.2H28.4 M25.4 64.7H28.4 M25.4 76.1H28.4 M25.4 98.9H28.4 M25.4 110.3H28.4 M25.4 121.8H28.4 M25.4 133.2H28.4 M25.4 144.6H28.4 M25.4 167.4H28.4 M25.4 178.8H28.4 M25.4 190.2H28.4 M25.4 201.7H28.4 M25.4 213.1H28.4 M25.4 235.9H28.4" stroke="#000" stroke-width="2" fill="none"/>
<path d="M110.4 242.0V237.0 M195.4 242.0V237.0 M280.4 242.0V237.0 M39.6 242.0V239.0 M53.7 242.0V239.0 M67.9 242.0V239.0 M82.1 242.0V239.0 M96.2 242.0V239.0 M124.6 242.0V239.0 M138.7 242.0V239.0 M152.9 242.0V239.0 M167.1 242.0V239.0 M181.2 242.0V239.0 M209.6 242.0V239.0 M223.7 242.0V239.0 M237.9 242.0V239.0 M252.1 242.0V239.0 M266.2 242.0V239.0 M294.6 242.0V239.0 M308.7 242.0V239.0" stroke="#000" stroke-width="2" fill="none"/>
<rect x="385.4" y="2.0" width="297.4" height="240.0" fill="none" stroke="#000" stroke-width="2"/>
<path d="M385.4 229.3H390.4 M385.4 187.2H388.4 M385.4 145.1H388.4 M385.4 103.0H388.4 M385.4 60.9H388.4 M385.4 18.8H388.4" stroke="#000" stroke-width="2" fill="none"/>
<path d="M434.5 242.0V237.0 M534.1 242.0V237.0 M633.7 242.0V237.0 M401.3 242.0V239.0 M417.9 242.0V239.0 M451.1 242.0V239.0 M467.7 242.0V239.0 M484.3 242.0V239.0 M500.9 242.0V239.0 M517.5 242.0V239.0 M550.7 242.0V239.0 M567.3 242.0V239.0 M583.9 242.0V239.0 M600.5 242.0V239.0 M617.1 242.0V239.0 M650.3 242.0V239.0 M666.9 242.0V239.0" stroke="#000" stroke-width="2" fill="none"/>
<rect x="230.3" y="300.0" width="298.0" height="239.3" fill="none" stroke="#000" stroke-width="2"/>
<path d="M230.3 346.8H235.3 M230.3 422.3H235.3 M230.3 497.8H235.3 M230.3 309.1H233.3 M230.3 321.6H233.3 M230.3 334.2H233.3 M230.3 359.4H233.3 M230.3 372.0H233.3 M230.3 384.6H233.3 M230.3 397.1H233.3 M230.3 409.7H233.3 M230.3 434.9H233.3 M230.3 447.5H233.3 M230.3 460.1H233.3 M230.3 472.6H233.3 M230.3 485.2H233.3 M230.3 510.4H233.3 M230.3 523.0H233.3 M230.3 535.5H233.3" stroke="#000" stroke-width="2" fill="none"/>
<path d="M272.2 539.3V534.3 M336.2 539.3V534.3 M400.2 539.3V534.3 M464.1 539.3V534.3 M240.3 539.3V536.3 M250.9 539.3V536.3 M261.6 539.3V536.3 M282.9 539.3V536.3 M293.6 539.3V536.3 M304.2 539.3V536.3 M314.9 539.3V536.3 M325.5 539.3V536.3 M346.9 539.3V536.3 M357.5 539.3V536.3 M368.2 539.3V536.3 M378.8 539.3V536.3 M389.5 539.3V536.3 M410.8 539.3V536.3 M421.5 539.3V536.3 M432.1 539.3V536.3 M442.8 539.3V536.3 M453.5 539.3V536.3 M474.8 539.3V536.3 M485.4 539.3V536.3 M496.1 539.3V536.3 M506.8 539.3V536.3 M517.4 539.3V536.3" stroke="#000" stroke-width="2" fill="none"/>
<path d="M315.1 364.5V403" stroke="#000" stroke-width="1.3" stroke-dasharray="1.3 4.93" fill="none"/>
<g font-family="'Liberation Serif', serif" fill="#000" style="font-kerning:none">
<text x="25.4" y="257.8" font-size="14.0" text-anchor="middle" font-weight="bold">4000</text>
<text x="110.4" y="257.8" font-size="14.0" text-anchor="middle" font-weight="bold">3000</text>
<text x="195.4" y="257.8" font-size="14.0" text-anchor="middle" font-weight="bold">2000</text>
<text x="280.4" y="257.8" font-size="14.0" text-anchor="middle" font-weight="bold">1000</text>
<text x="434.5" y="257.8" font-size="14.0" text-anchor="middle" font-weight="bold">1000</text>
<text x="534.1" y="257.8" font-size="14.0" text-anchor="middle" font-weight="bold">2000</text>
<text x="633.7" y="257.8" font-size="14.0" text-anchor="middle" font-weight="bold">3000</text>
<text x="272.2" y="555.8" font-size="14.0" text-anchor="middle" font-weight="bold">15</text>
<text x="336.2" y="555.8" font-size="14.0" text-anchor="middle" font-weight="bold">30</text>
<text x="400.2" y="555.8" font-size="14.0" text-anchor="middle" font-weight="bold">45</text>
<text x="464.1" y="555.8" font-size="14.0" text-anchor="middle" font-weight="bold">60</text>
<text x="528.1" y="555.8" font-size="14.0" text-anchor="middle" font-weight="bold">75</text>
<text x="112.5" y="280.8" font-size="14.0" text-anchor="start" font-weight="bold">W<tspan dx="1.5">avenumber(cm</tspan><tspan dy="-6.5" dx="1.3" font-size="13">-</tspan><tspan dx="0.6" font-size="13">1</tspan><tspan dy="6.5" dx="0.4">)</tspan></text>
<text x="474.6" y="286.9" font-size="14.0" text-anchor="start" font-weight="bold">Raman shift <tspan dx="1.2">(cm</tspan><tspan dy="-6.5" dx="0.6" font-size="13">-</tspan><tspan dx="1.2" font-size="13">1</tspan><tspan dy="6.5" dx="0.3">)</tspan></text>
<text x="341.4" y="576.7" font-size="14.0" text-anchor="start" font-weight="bold">2<tspan x="349.0" font-style="italic" font-weight="normal" font-size="15.5">θ</tspan><tspan x="359.2">(degree)</tspan></text>
<text transform="translate(11.2 121.0) rotate(-90)" font-size="15.0" font-weight="bold" text-anchor="middle">A<tspan dx="0.8">bsor</tspan><tspan dx="0.8">bance(a.u.)</tspan></text>
<text transform="translate(369.1 121.0) rotate(-90)" font-size="15.0" font-weight="bold" text-anchor="middle">Intensity (a.u.)</text>
<text transform="translate(220.5 423.1) rotate(-90)" font-size="15.0" font-weight="bold" text-anchor="middle">Intensity (a.u.)</text>
<text id="a3423" transform="translate(76.55 37.20) rotate(-90)" font-size="10.90" font-weight="bold" text-anchor="middle">3423</text>
<text id="a2909" transform="translate(119.55 19.40) rotate(-90)" font-size="10.90" font-weight="bold" text-anchor="middle">2909</text>
<text id="a2844" transform="translate(129.75 81.10) rotate(-90)" font-size="10.90" font-weight="bold" text-anchor="middle">2844</text>
<text id="a2225" transform="translate(180.10 175.30) rotate(-90)" font-size="10.90" font-weight="bold" text-anchor="middle">2225</text>
<text id="a1631" transform="translate(228.20 76.80) rotate(-90)" font-size="10.90" font-weight="bold" text-anchor="middle">1631</text>
<text id="a1476" transform="translate(243.10 129.30) rotate(-90)" font-size="10.90" font-weight="bold" text-anchor="middle">1476</text>
<text id="a1357" transform="translate(254.50 34.00) rotate(-90)" font-size="10.90" font-weight="bold" text-anchor="middle">1357</text>
<text id="a1162" transform="translate(268.70 164.10) rotate(-90)" font-size="10.90" font-weight="bold" text-anchor="middle">1162</text>
<text id="a968" transform="translate(283.60 175.50) rotate(-90)" font-size="10.90" font-weight="bold" text-anchor="middle">968</text>
<text id="a907" transform="translate(293.75 188.50) rotate(-90)" font-size="10.90" font-weight="bold" text-anchor="middle">907</text>
<text id="a833" transform="translate(298.95 195.80) rotate(-90)" font-size="10.90" font-weight="bold" text-anchor="middle">833</text>
<text id="a598" transform="translate(317.95 161.70) rotate(-90)" font-size="10.90" font-weight="bold" text-anchor="middle">598</text>
<text id="b1287" transform="translate(459.60 29.90) rotate(-90)" font-size="10.90" font-weight="bold" text-anchor="middle">1287</text>
<text id="b1604" transform="translate(498.45 40.30) rotate(-90)" font-size="10.90" font-weight="bold" text-anchor="middle">1604</text>
<text id="b2575" transform="translate(593.55 26.80) rotate(-90)" font-size="10.90" font-weight="bold" text-anchor="middle">2575</text>
<text id="b2873" transform="translate(625.65 135.20) rotate(-90)" font-size="10.90" font-weight="bold" text-anchor="middle">2873</text>
<text id="bD" x="464.30" y="11.55" font-size="10.80" font-weight="bold" text-anchor="middle">D</text>
<text id="bG" x="495.50" y="15.05" font-size="10.80" font-weight="bold" text-anchor="middle">G</text>
<text id="bDp" x="591.70" y="11.45" font-size="10.80" font-weight="bold" text-anchor="middle">D'</text>
<text id="b2D" x="620.40" y="111.70" font-size="10.00" font-weight="bold" text-anchor="middle">2D</text>
<text id="c001a" transform="translate(243.15 490.90) rotate(-90)" font-size="10.80" font-weight="bold" text-anchor="middle">(001)</text>
<text id="c003" transform="translate(262.55 428.90) rotate(-90)" font-size="10.80" font-weight="bold" text-anchor="middle">(003)</text>
<text id="c002a" transform="translate(287.15 471.10) rotate(-90)" font-size="10.80" font-weight="bold" text-anchor="middle">(002)</text>
<text id="c006" transform="translate(294.65 315.40) rotate(-90)" font-size="10.80" font-weight="bold" text-anchor="middle">(006)</text>
<text id="c002b" transform="translate(316.25 420.30) rotate(-90)" font-size="10.80" font-weight="bold" text-anchor="middle">(002)</text>
<text id="c110a" transform="translate(337.05 462.20) rotate(-90)" font-size="10.80" font-weight="bold" text-anchor="middle">(110)</text>
<text id="c101" transform="translate(351.90 475.10) rotate(-90)" font-size="10.80" font-weight="bold" text-anchor="middle">(101)</text>
<text id="c001b" transform="translate(381.55 494.50) rotate(-90)" font-size="10.80" font-weight="bold" text-anchor="middle">(001)</text>
<text id="c110b" transform="translate(466.10 509.70) rotate(-90)" font-size="10.80" font-weight="bold" text-anchor="middle">(110)</text>
<text id="cN" transform="translate(319.55 330.90) rotate(-90)" font-size="10.90" font-weight="normal" text-anchor="middle" stroke="#000" stroke-width="0.35">N-MWCNT</text>
<text id="pa" x="307.20" y="27.70" font-size="21.60" font-weight="bold" text-anchor="middle">(a)</text>
<text id="pb" x="662.80" y="27.70" font-size="21.60" font-weight="bold" text-anchor="middle">(b)</text>
<text id="pc" x="505.80" y="334.40" font-size="21.60" font-weight="bold" text-anchor="middle">(c)</text>
</g>
</svg>
</body></html>
